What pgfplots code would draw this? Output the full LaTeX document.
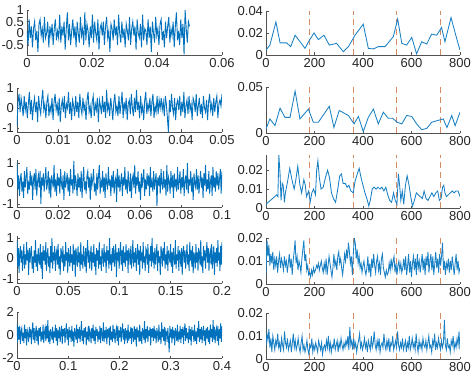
\documentclass[border=0pt]{standalone}
\usepackage{pgfplots}
\pgfplotsset{compat=1.18}
\usepackage{pgfplotstable}
\usepackage{fontspec}
\setmainfont{Liberation Sans}
\definecolor{mblue}{RGB}{0,114,189}
\definecolor{morange}{RGB}{212,140,100}
\definecolor{axgray}{RGB}{38,38,38}

\pgfplotstableread[row sep=\\]{y\\
0.1\\-0.5\\0.6\\-0.2\\0.3\\-0.6\\0.2\\0.5\\-0.3\\0.1\\-0.8\\0.4\\0.6\\-0.1\\0.2\\-0.4\\0.7\\-0.2\\0.0\\0.5\\
-0.6\\0.3\\-0.1\\0.4\\-0.5\\0.2\\0.6\\-0.3\\0.1\\-0.2\\0.8\\-0.4\\0.3\\-0.1\\0.5\\-0.7\\0.2\\0.9\\-0.3\\0.4\\
-0.5\\0.1\\0.6\\-0.2\\0.3\\-0.6\\0.5\\0.0\\-0.4\\0.7\\-0.1\\0.2\\-0.5\\0.9\\-0.3\\0.4\\0.1\\-0.6\\0.3\\-0.2\\
0.8\\-0.4\\0.5\\0.0\\-0.3\\0.6\\-0.7\\0.2\\0.4\\-0.1\\0.5\\-0.5\\0.3\\0.7\\-0.2\\0.1\\-0.8\\0.4\\0.2\\-0.3\\
0.6\\-0.1\\0.3\\-0.5\\0.8\\0.0\\-0.4\\0.5\\-0.2\\0.2\\-0.6\\0.4\\0.1\\-0.3\\0.7\\-0.5\\0.2\\0.5\\-0.1\\0.3\\
-0.7\\0.6\\0.0\\-0.2\\0.4\\-0.6\\0.8\\-0.3\\0.2\\0.1\\-0.5\\0.6\\-0.2\\0.3\\-0.8\\0.5\\0.0\\-0.4\\0.7\\-0.1\\
0.2\\-0.5\\0.4\\0.6\\-0.3\\0.1\\-0.6\\0.5\\-0.2\\0.3\\0.7\\-0.4\\0.2\\-0.1\\0.5\\-0.6\\0.3\\0.9\\-0.3\\0.1\\
-0.5\\0.6\\-0.2\\0.4\\-0.9\\1.0\\0.2\\-0.4\\0.5\\0.3\\
}\sigA
\pgfplotstablegetrowsof{\sigA}\edef\nA{\pgfplotsretval}

\pgfplotstableread[row sep=\\]{y\\
-0.9\\0.3\\0.7\\-0.2\\0.5\\0.1\\-0.4\\0.6\\-0.1\\0.3\\-0.5\\0.2\\0.8\\-0.3\\0.4\\-0.6\\0.1\\0.5\\-0.2\\0.3\\
-0.7\\0.6\\0.0\\-0.3\\0.4\\0.9\\-0.1\\0.2\\-0.5\\0.3\\0.6\\-0.4\\0.1\\-0.2\\0.5\\-0.6\\0.3\\0.7\\-0.1\\0.2\\
-0.4\\0.5\\-0.7\\0.1\\0.4\\-0.2\\0.6\\-0.5\\0.2\\0.0\\0.8\\-0.3\\0.3\\-0.6\\0.4\\0.1\\-0.4\\0.6\\-0.2\\0.3\\
-0.5\\0.7\\0.0\\-0.3\\0.5\\-0.1\\0.2\\-0.6\\0.4\\0.8\\-0.2\\0.1\\-0.5\\0.3\\0.6\\-0.4\\0.2\\-0.1\\0.5\\-0.7\\
0.4\\0.1\\-0.3\\0.6\\-0.2\\0.3\\-0.5\\0.9\\-0.1\\0.2\\-0.4\\0.5\\0.0\\-0.6\\0.3\\0.7\\-0.2\\0.1\\-0.4\\0.6\\
-0.3\\0.2\\0.8\\-0.5\\0.3\\-0.1\\0.5\\-0.6\\0.2\\0.4\\-0.3\\0.7\\0.0\\-0.4\\0.5\\-0.2\\0.9\\-0.1\\0.3\\-0.5\\
0.6\\-0.2\\0.1\\-0.6\\0.4\\0.8\\-0.3\\0.2\\-0.1\\0.5\\-0.4\\0.3\\0.7\\-0.5\\0.1\\-0.2\\0.6\\-0.3\\0.4\\0.0\\
0.5\\-0.1\\0.3\\-0.4\\0.6\\0.2\\-0.5\\-1.2\\0.4\\-0.2\\0.7\\0.0\\-0.3\\0.5\\-0.6\\0.2\\0.4\\-0.1\\0.6\\-0.4\\
0.3\\-0.2\\0.8\\-0.5\\0.1\\0.4\\-0.3\\0.6\\-0.1\\0.2\\-0.6\\0.5\\0.3\\-0.2\\0.7\\-0.4\\0.1\\0.5\\-0.3\\0.2\\
-0.5\\0.6\\0.0\\-0.2\\0.4\\-0.6\\0.3\\0.7\\-0.1\\0.2\\-0.4\\0.5\\-0.2\\0.3\\0.6\\-0.5\\0.2\\0.4\\0.1\\0.7\\
}\sigB
\pgfplotstablegetrowsof{\sigB}\edef\nB{\pgfplotsretval}

\pgfplotstableread[row sep=\\]{y\\
1.0\\-0.3\\0.4\\-0.6\\0.2\\0.5\\-0.4\\0.1\\-0.7\\0.6\\-0.2\\0.3\\0.8\\-0.5\\0.0\\-0.3\\0.6\\-0.1\\0.4\\-0.8\\
0.2\\0.5\\-0.3\\0.7\\-0.6\\0.1\\0.4\\-0.2\\0.6\\-1.0\\0.3\\-0.1\\0.5\\-0.4\\0.2\\0.8\\-0.3\\0.0\\0.6\\-0.5\\
0.3\\-0.7\\0.4\\0.1\\-0.2\\0.9\\-0.4\\0.2\\-0.6\\0.5\\-0.1\\0.3\\-0.5\\0.7\\0.0\\-0.3\\0.4\\-0.8\\0.6\\-0.2\\
0.1\\0.5\\-0.4\\0.3\\-0.6\\0.7\\-0.1\\0.2\\-0.5\\1.1\\-0.3\\0.4\\0.0\\-0.6\\0.5\\-0.2\\0.3\\-0.4\\0.6\\-0.7\\
0.2\\0.8\\-0.3\\0.1\\-0.5\\0.4\\0.6\\-0.2\\0.3\\-0.8\\0.5\\-0.1\\0.2\\0.7\\-0.4\\0.0\\-0.6\\0.5\\-0.3\\0.4\\
0.9\\-0.5\\0.1\\-0.2\\0.6\\-0.4\\0.3\\-0.7\\0.5\\0.0\\-0.3\\0.8\\-0.1\\0.2\\-0.6\\0.4\\-0.2\\0.6\\-0.5\\0.1\\
0.3\\-0.9\\0.7\\-0.2\\0.4\\-0.4\\0.1\\0.5\\-0.6\\0.3\\-0.1\\0.8\\-0.3\\0.2\\-0.5\\0.6\\0.0\\-0.4\\0.5\\-0.7\\
0.2\\0.4\\-0.2\\0.9\\-0.5\\0.3\\-0.1\\0.6\\-0.4\\0.1\\-0.8\\0.5\\-0.2\\0.3\\0.7\\-0.6\\0.2\\-0.3\\0.5\\-0.1\\
0.4\\-0.6\\0.8\\-0.2\\0.1\\-0.4\\0.6\\-0.3\\0.2\\0.5\\-1.1\\0.3\\-0.1\\0.4\\-0.5\\0.7\\0.0\\-0.3\\0.6\\-0.2\\
0.2\\-0.6\\0.9\\-0.4\\0.3\\0.1\\-0.5\\0.6\\-0.2\\0.4\\-0.7\\0.5\\-0.1\\0.2\\-0.4\\0.8\\-0.3\\0.1\\0.6\\-0.5\\
0.3\\-0.2\\0.7\\-0.6\\0.1\\0.4\\-0.3\\1.0\\-0.5\\0.2\\-0.1\\0.6\\-0.4\\0.3\\-0.8\\0.5\\0.0\\-0.2\\0.7\\-0.3\\
0.4\\-0.5\\0.1\\0.6\\-0.2\\0.3\\-0.7\\0.5\\-0.1\\0.9\\-0.4\\0.2\\-0.3\\0.6\\-0.5\\0.1\\0.4\\-0.6\\0.8\\-0.2\\
0.3\\-0.4\\0.6\\-0.1\\0.5\\-0.3\\0.2\\0.7\\-0.5\\0.6\\
}\sigC
\pgfplotstablegetrowsof{\sigC}\edef\nC{\pgfplotsretval}

\pgfplotstableread[row sep=\\]{y\\
0.9\\-0.4\\0.5\\-0.7\\0.3\\0.6\\-0.2\\0.4\\-0.6\\0.1\\0.7\\-0.5\\0.2\\-0.3\\0.8\\-0.1\\0.4\\-0.8\\0.5\\-0.2\\
0.3\\0.6\\-0.5\\0.1\\-0.7\\0.4\\-0.2\\0.9\\-0.4\\0.2\\-0.6\\0.5\\0.0\\-0.3\\0.7\\-0.5\\0.3\\-1.0\\0.6\\-0.1\\
0.4\\-0.3\\0.8\\-0.6\\0.2\\0.5\\-0.4\\0.1\\-0.7\\0.6\\-0.2\\1.0\\-0.5\\0.3\\-0.1\\0.6\\-0.6\\0.2\\0.4\\-0.3\\
0.7\\-0.5\\0.1\\-0.8\\0.5\\0.3\\-0.2\\0.6\\-0.6\\0.2\\-0.4\\0.8\\-0.1\\0.3\\-0.7\\0.5\\0.0\\-0.4\\0.6\\-0.2\\
0.2\\-0.6\\0.7\\-0.3\\0.4\\-0.9\\0.5\\0.1\\-0.4\\0.6\\-0.2\\0.3\\-0.6\\0.8\\-0.3\\0.2\\-0.5\\0.6\\0.0\\-0.4\\
0.5\\-0.7\\0.3\\0.9\\-0.2\\0.4\\-0.5\\0.1\\0.6\\-0.6\\0.3\\-0.2\\0.7\\-0.4\\0.2\\-0.8\\0.5\\-0.1\\0.4\\-0.5\\
0.8\\-0.3\\0.1\\-0.6\\0.5\\0.2\\-0.4\\0.7\\-0.2\\0.3\\-0.7\\0.6\\-0.1\\0.4\\-0.5\\1.0\\-0.3\\0.2\\-0.6\\0.5\\
-0.2\\0.6\\-0.4\\0.1\\0.7\\-0.9\\0.3\\-0.1\\0.5\\-0.5\\0.2\\0.8\\-0.3\\0.4\\-0.6\\0.6\\-0.2\\0.3\\-0.4\\0.7\\
-0.1\\0.4\\-0.7\\0.5\\0.2\\-0.3\\0.6\\-0.5\\0.1\\0.9\\-0.4\\0.3\\-0.2\\0.5\\-0.6\\0.2\\0.7\\-0.3\\0.4\\-0.8\\
0.6\\-0.1\\0.3\\-0.5\\0.8\\-0.2\\0.1\\-0.6\\0.5\\0.4\\-0.3\\0.7\\-0.7\\0.2\\-0.1\\0.6\\-0.4\\1.0\\-0.2\\0.3\\
-0.5\\0.5\\-0.3\\0.2\\0.7\\-0.6\\0.4\\-0.2\\0.1\\-0.8\\0.6\\0.3\\-0.4\\0.5\\-0.1\\0.8\\-0.5\\0.2\\-0.3\\0.6\\
-0.6\\0.4\\0.1\\-0.2\\0.7\\-0.4\\0.3\\-0.7\\0.5\\0.0\\-0.3\\0.9\\-0.5\\0.2\\-0.1\\0.6\\-0.6\\0.4\\0.2\\-0.4\\
0.5\\-0.8\\0.3\\0.6\\-0.2\\0.4\\-0.5\\0.1\\0.7\\-0.3\\0.2\\-0.6\\0.8\\-0.1\\0.4\\-0.4\\0.6\\-0.7\\0.3\\0.1\\
-0.5\\0.7\\-0.2\\0.3\\-0.6\\0.5\\0.2\\-0.3\\0.9\\-0.4\\0.1\\-0.7\\0.6\\-0.1\\0.4\\-0.5\\0.3\\0.8\\-0.2\\0.5\\
-0.6\\0.2\\0.4\\-0.3\\0.7\\-0.5\\0.1\\0.6\\-0.8\\0.3\\-0.2\\0.5\\-0.4\\0.9\\-0.1\\0.3\\-0.6\\0.6\\-0.3\\0.8\\
}\sigD
\pgfplotstablegetrowsof{\sigD}\edef\nD{\pgfplotsretval}

\pgfplotstableread[row sep=\\]{y\\
1.0\\-0.6\\0.7\\-0.4\\0.8\\-0.8\\0.3\\0.6\\-0.5\\0.2\\-0.7\\0.9\\-0.3\\0.5\\-0.9\\0.4\\0.1\\-0.6\\0.7\\-0.2\\
0.5\\-0.8\\0.3\\1.1\\-0.4\\0.6\\-0.7\\0.2\\0.8\\-0.5\\0.4\\-0.9\\0.6\\-0.1\\0.7\\-0.6\\0.3\\-0.4\\0.9\\-0.7\\
0.2\\0.6\\-0.5\\0.8\\-0.3\\1.3\\-0.6\\0.4\\-0.8\\0.5\\0.1\\-0.4\\0.7\\-0.7\\0.3\\-0.2\\0.9\\-0.5\\0.6\\-0.9\\
0.4\\-0.3\\0.7\\-0.6\\0.2\\0.8\\-0.8\\0.5\\-0.1\\0.6\\-0.7\\0.3\\1.0\\-0.4\\0.5\\-0.9\\0.7\\-0.2\\0.4\\-0.6\\
0.8\\-0.5\\0.3\\-1.0\\0.6\\0.1\\-0.4\\0.9\\-0.7\\0.5\\-0.3\\0.7\\-0.6\\0.2\\1.2\\-0.5\\0.4\\-0.8\\0.6\\-0.2\\
0.7\\-0.9\\0.3\\-0.4\\0.8\\-0.6\\0.5\\0.2\\-0.7\\0.6\\-0.3\\0.9\\-0.5\\0.4\\-0.8\\0.7\\-0.1\\0.5\\-0.6\\0.3\\
-0.4\\0.8\\-0.7\\0.6\\0.1\\-0.5\\1.1\\-0.6\\0.4\\-0.3\\0.7\\-0.8\\0.5\\-0.2\\0.6\\-0.9\\0.8\\-0.4\\0.3\\-0.6\\
0.9\\-0.3\\0.5\\-0.7\\0.2\\0.6\\-0.5\\0.8\\-0.9\\0.4\\-0.2\\0.7\\-0.6\\0.3\\1.0\\-0.4\\0.5\\-0.8\\0.6\\-0.1\\
0.4\\-0.7\\0.9\\-0.5\\0.3\\-0.3\\0.7\\-0.8\\0.6\\0.1\\-0.6\\0.8\\-0.4\\0.5\\-1.0\\0.7\\-0.2\\0.4\\-0.6\\0.9\\
-0.5\\0.3\\-0.8\\0.6\\0.2\\-0.4\\1.2\\-0.7\\0.5\\-0.3\\0.8\\-0.6\\0.4\\-0.1\\0.7\\-0.9\\0.5\\-0.2\\0.6\\-0.5\\
0.8\\-0.3\\0.4\\-0.7\\0.6\\0.1\\-0.6\\0.9\\-0.4\\0.3\\-0.8\\1.1\\-0.2\\0.5\\-0.5\\0.7\\-0.9\\0.4\\0.2\\-0.6\\
0.6\\-0.4\\-1.5\\0.8\\-0.2\\0.5\\-0.7\\0.7\\-0.3\\0.4\\-0.9\\0.6\\0.1\\-0.5\\0.9\\-0.6\\0.3\\-0.4\\0.8\\-0.7\\
0.5\\-0.2\\0.7\\-0.8\\0.4\\1.0\\-0.5\\0.6\\-0.3\\0.2\\-0.7\\0.8\\-0.4\\0.5\\-0.9\\0.7\\-0.1\\0.4\\-0.6\\0.9\\
-0.5\\0.3\\-0.8\\0.6\\-0.2\\1.2\\-0.6\\0.5\\-0.4\\0.7\\-0.7\\0.3\\0.8\\-0.5\\0.4\\-0.9\\0.6\\-0.3\\0.7\\-0.6\\
0.4\\-0.8\\0.9\\-0.2\\0.5\\-0.6\\1.3\\-0.4\\0.7\\-0.7\\0.3\\0.6\\-0.5\\0.8\\-0.9\\0.5\\-0.3\\1.0\\-0.6\\0.8\\
}\sigE
\pgfplotstablegetrowsof{\sigE}\edef\nE{\pgfplotsretval}

\pgfplotstableread[row sep=\\]{y\\
0.004\\0.019\\0.012\\0.017\\0.008\\0.013\\0.009\\0.014\\0.006\\0.011\\0.008\\0.012\\0.005\\0.010\\0.013\\0.007\\0.011\\0.009\\0.006\\0.012\\
0.008\\0.010\\0.005\\0.009\\0.013\\0.007\\0.011\\0.004\\0.010\\0.014\\0.019\\0.009\\0.012\\0.006\\0.010\\0.008\\0.005\\0.011\\0.015\\0.019\\
0.010\\0.013\\0.006\\0.008\\0.004\\0.005\\0.003\\0.006\\0.004\\0.007\\0.005\\0.006\\0.008\\0.007\\0.009\\0.006\\0.008\\0.010\\0.007\\0.005\\
0.009\\0.006\\0.011\\0.004\\0.008\\0.012\\0.009\\0.006\\0.003\\0.007\\0.013\\0.008\\0.010\\0.006\\0.012\\0.014\\0.009\\0.011\\0.007\\0.004\\
0.008\\0.013\\0.010\\0.015\\0.011\\0.018\\0.014\\0.009\\0.012\\0.004\\0.013\\0.020\\0.018\\0.011\\0.015\\0.009\\0.012\\0.007\\0.009\\0.005\\
0.008\\0.010\\0.006\\0.004\\0.007\\0.012\\0.005\\0.009\\0.003\\0.011\\0.007\\0.013\\0.008\\0.005\\0.010\\0.012\\0.006\\0.009\\0.004\\0.011\\
0.013\\0.007\\0.005\\0.003\\0.006\\0.004\\0.005\\0.009\\0.006\\0.011\\0.007\\0.010\\0.012\\0.005\\0.009\\0.004\\0.008\\0.010\\0.006\\0.009\\
0.005\\0.007\\0.011\\0.006\\0.012\\0.004\\0.008\\0.013\\0.005\\0.010\\0.003\\0.009\\0.012\\0.006\\0.011\\0.004\\0.013\\0.007\\0.010\\0.005\\
0.009\\0.013\\0.006\\0.011\\0.004\\0.012\\0.008\\0.014\\0.005\\0.010\\0.013\\0.006\\0.012\\0.004\\0.009\\0.014\\0.007\\0.011\\0.005\\0.013\\
0.008\\0.012\\0.018\\0.006\\0.010\\0.004\\0.009\\0.007\\0.011\\0.005\\0.010\\0.006\\0.012\\0.008\\0.004\\0.009\\0.013\\0.006\\0.010\\0.005\\
0.007\\
}\specD
\pgfplotstablegetrowsof{\specD}\edef\nSD{\pgfplotsretval}

\pgfplotstableread[row sep=\\]{y\\
0.006\\0.011\\0.008\\0.013\\0.005\\0.009\\0.003\\0.010\\0.007\\0.004\\0.008\\0.006\\0.011\\0.005\\0.007\\0.003\\0.009\\0.006\\0.004\\0.012\\
0.007\\0.005\\0.009\\0.004\\0.006\\0.008\\0.003\\0.007\\0.011\\0.005\\0.008\\0.004\\0.006\\0.009\\0.005\\0.003\\0.007\\0.010\\0.004\\0.006\\
0.003\\0.005\\0.008\\0.004\\0.002\\0.006\\0.005\\0.009\\0.003\\0.006\\0.004\\0.007\\0.005\\0.003\\0.008\\0.006\\0.004\\0.007\\0.002\\0.005\\
0.006\\0.004\\0.008\\0.005\\0.010\\0.004\\0.007\\0.003\\0.006\\0.005\\0.009\\0.004\\0.006\\0.008\\0.003\\0.007\\0.005\\0.009\\0.006\\0.004\\
0.007\\0.005\\0.008\\0.006\\0.010\\0.004\\0.014\\0.006\\0.008\\0.004\\0.009\\0.005\\0.007\\0.003\\0.006\\0.008\\0.011\\0.005\\0.007\\0.004\\
0.006\\0.009\\0.005\\0.007\\0.003\\0.008\\0.006\\0.004\\0.010\\0.005\\0.007\\0.012\\0.006\\0.004\\0.008\\0.005\\0.009\\0.003\\0.006\\0.007\\
0.005\\0.011\\0.006\\0.004\\0.008\\0.005\\0.009\\0.003\\0.007\\0.006\\0.010\\0.004\\0.006\\0.008\\0.005\\0.012\\0.006\\0.004\\0.007\\0.005\\
0.009\\0.004\\0.006\\0.008\\0.003\\0.007\\0.005\\0.010\\0.004\\0.006\\0.009\\0.005\\0.007\\0.004\\0.011\\0.006\\0.003\\0.008\\0.005\\0.007\\
0.004\\0.009\\0.006\\0.005\\0.008\\0.004\\0.007\\0.010\\0.005\\0.006\\0.003\\0.008\\0.006\\0.011\\0.004\\0.007\\0.005\\0.009\\0.006\\0.004\\
0.008\\0.005\\0.007\\0.017\\0.006\\0.004\\0.009\\0.005\\0.006\\0.003\\0.008\\0.006\\0.010\\0.004\\0.007\\0.005\\0.009\\0.006\\0.012\\0.004\\
}\specE
\pgfplotstablegetrowsof{\specE}\edef\nSE{\pgfplotsretval}

\pgfplotsset{
  base/.style={
    scale only axis, anchor=south west,
    axis x line*=bottom, axis y line*=left,
    axis line style={axgray!80, line width=0.7pt, -},
    tick style={axgray!80, line width=0.6pt},
    tick align=inside, major tick length=2.5pt,
    ticklabel style={font=\fontsize{13}{13}\selectfont, text=axgray},
    yticklabel style={xshift=0.5pt},
    /pgf/number format/assume math mode=true,
    scaled ticks=false,
  },
  lcol/.style={base, width=205pt, xmin=0},
  rcol/.style={base, width=194pt, xmin=0, xmax=800,
    xtick={0,200,400,600,800}, xticklabels={0,200,400,600,800}},
  sig/.style={mblue, line width=0.9pt},
  spec/.style={mblue!90!white, line width=0.85pt},
  vl/.style={morange, dash pattern=on 6pt off 4pt, line width=1.1pt},
}

\begin{document}
\begin{tikzpicture}
\useasboundingbox (0pt,0pt) rectangle (474pt,381pt);

% ---------- left column ----------
\begin{axis}[lcol, at={(27pt,326pt)}, width=195pt, height=45pt,
  xmax=0.06, ymin=-0.93, ymax=1,
  xtick={0,0.02,0.04,0.06}, xticklabels={0,0.02,0.04,0.06},
  ytick={-0.5,0,0.5,1}, yticklabels={-0.5,0,0.5,1}]
\addplot[sig] table[x expr=\coordindex*0.05/(\nA-1), y=y]{\sigA};
\end{axis}

\begin{axis}[lcol, at={(17pt,249pt)}, height=44pt,
  xmax=0.05, ymin=-1.2, ymax=1,
  xtick={0,0.01,0.02,0.03,0.04,0.05}, xticklabels={0,0.01,0.02,0.03,0.04,0.05},
  ytick={-1,0,1}, yticklabels={-1,0,1}]
\addplot[sig] table[x expr=\coordindex*0.05/(\nB-1), y=y]{\sigB};
\end{axis}

\begin{axis}[lcol, at={(17pt,174pt)}, height=47pt,
  xmax=0.1, ymin=-1.15, ymax=1.15,
  xtick={0,0.02,0.04,0.06,0.08,0.1}, xticklabels={0,0.02,0.04,0.06,0.08,0.1},
  ytick={-1,0,1}, yticklabels={-1,0,1}]
\addplot[sig] table[x expr=\coordindex*0.1/(\nC-1), y=y]{\sigC};
\end{axis}

\begin{axis}[lcol, at={(17pt,98pt)}, height=47pt,
  xmax=0.2, ymin=-1.2, ymax=1.1,
  xtick={0,0.05,0.1,0.15,0.2}, xticklabels={0,0.05,0.1,0.15,0.2},
  ytick={-1,0,1}, yticklabels={-1,0,1}]
\addplot[sig] table[x expr=\coordindex*0.2/(\nD-1), y=y]{\sigD};
\end{axis}

\begin{axis}[lcol, at={(17pt,23pt)}, height=46pt,
  xmax=0.4, ymin=-2, ymax=2,
  xtick={0,0.1,0.2,0.3,0.4}, xticklabels={0,0.1,0.2,0.3,0.4},
  ytick={-2,0,2}, yticklabels={-2,0,2}]
\addplot[sig] table[x expr=\coordindex*0.4/(\nE-1), y=y]{\sigE};
\end{axis}

% ---------- right column ----------
\begin{axis}[rcol, at={(266pt,326pt)}, height=44pt,
  ymin=0, ymax=0.04, ytick={0,0.02,0.04}, yticklabels={0,0.02,0.04}]
\addplot[vl] coordinates {(180,0) (180,0.04)};
\addplot[vl] coordinates {(360,0) (360,0.04)};
\addplot[vl] coordinates {(540,0) (540,0.04)};
\addplot[vl] coordinates {(720,0) (720,0.04)};
\addplot[spec] coordinates {
(0,0.0045) (16,0.009) (41,0.030) (58,0.011) (85,0.011) (102,0.0076) (120,0.018)
(161,0.006) (175,0.012) (198,0.020) (216,0.014) (239,0.018) (261,0.009) (291,0.0106)
(319,0.003) (340,0.0076) (367,0.018) (401,0.028) (422,0.006) (443,0.0055) (463,0.0076)
(491,0.0076) (525,0.0167) (543,0.0327) (560,0.0106) (580,0.009) (601,0.016) (621,0.001)
(642,0.012) (663,0.010) (683,0.019) (704,0.018) (724,0.025) (738,0.012) (763,0.034)
(790,0.012) (800,0.0045)};
\end{axis}

\begin{axis}[rcol, at={(266pt,248pt)}, height=46pt,
  ymin=0, ymax=0.05, ytick={0,0.05}, yticklabels={0,0.05}]
\addplot[vl] coordinates {(180,0) (180,0.05)};
\addplot[vl] coordinates {(360,0) (360,0.05)};
\addplot[vl] coordinates {(540,0) (540,0.05)};
\addplot[vl] coordinates {(720,0) (720,0.05)};
\addplot[spec] coordinates {
(0,0.0044) (16,0.0153) (37,0.008) (58,0.027) (78,0.017) (99,0.017) (120,0.0456)
(140,0.0153) (175,0.026) (195,0.0117) (216,0.0117) (261,0.029) (280,0.006) (302,0.0245)
(340,0.019) (363,0.0099) (381,0.018) (401,0.0015) (422,0.017) (443,0.026) (463,0.0099)
(484,0.0226) (504,0.016) (522,0.016) (541,0.0117) (560,0.0099) (580,0.019) (601,0.018)
(621,0.0099) (642,0.0036) (663,0.005) (683,0.0117) (731,0.0153) (746,0.006) (766,0.019)
(780,0.008) (800,0.0226)};
\end{axis}

\begin{axis}[rcol, at={(266pt,173pt)}, height=53pt,
  ymin=0, ymax=0.028, ytick={0,0.01,0.02}, yticklabels={0,0.01,0.02}]
\addplot[vl] coordinates {(180,0) (180,0.028)};
\addplot[vl] coordinates {(360,0) (360,0.028)};
\addplot[vl] coordinates {(540,0) (540,0.028)};
\addplot[vl] coordinates {(720,0) (720,0.028)};
\addplot[spec] coordinates {
(0,0.002) (9,0.003) (18,0.004) (27,0.005) (36,0.006) (44,0.007) (49,0.006) (53,0.028)
(58,0.018) (62,0.004) (67,0.013) (71,0.012) (76,0.003) (80,0.008) (89,0.014) (98,0.021)
(107,0.015) (116,0.010) (122,0.014) (131,0.022) (140,0.012) (147,0.008) (156,0.015)
(162,0.012) (167,0.006) (176,0.009) (182,0.003) (189,0.008) (196,0.010) (204,0.007)
(209,0.020) (214,0.025) (220,0.016) (227,0.010) (236,0.011) (245,0.016) (254,0.020)
(262,0.016) (270,0.008) (278,0.005) (287,0.003) (296,0.010) (304,0.017) (311,0.018)
(318,0.013) (327,0.013) (334,0.011) (342,0.012) (350,0.009) (360,0.008) (367,0.014)
(374,0.017) (384,0.021) (392,0.016) (400,0.012) (408,0.008) (416,0.005) (424,0.001)
(430,0.004) (438,0.010) (446,0.011) (454,0.010) (462,0.011) (470,0.010) (478,0.011)
(486,0.009) (494,0.011) (502,0.007) (510,0.004) (518,0.003) (526,0.008) (533,0.004)
(540,0.002) (546,0.018) (551,0.012) (556,0.004) (562,0.009) (568,0.002) (575,0.012)
(582,0.017) (590,0.012) (597,0.006) (604,0.001) (612,0.004) (620,0.008) (628,0.007)
(636,0.006) (645,0.005) (652,0.009) (660,0.005) (668,0.004) (676,0.006) (684,0.008)
(692,0.006) (700,0.008) (708,0.009) (715,0.004) (722,0.005) (728,0.011) (733,0.012)
(738,0.008) (744,0.006) (752,0.007) (760,0.008) (768,0.009) (776,0.008) (784,0.009)
(792,0.009) (800,0.006)};
\end{axis}

\begin{axis}[rcol, at={(266pt,97pt)}, height=46pt,
  ymin=0, ymax=0.02, ytick={0,0.01,0.02}, yticklabels={0,0.01,0.02}]
\addplot[vl] coordinates {(180,0) (180,0.02)};
\addplot[vl] coordinates {(360,0) (360,0.02)};
\addplot[vl] coordinates {(540,0) (540,0.02)};
\addplot[vl] coordinates {(720,0) (720,0.02)};
\addplot[spec] table[x expr=\coordindex*800/(\nSD-1), y=y]{\specD};
\end{axis}

\begin{axis}[rcol, at={(266pt,22pt)}, height=46pt,
  ymin=0, ymax=0.02, ytick={0,0.01,0.02}, yticklabels={0,0.01,0.02}]
\addplot[vl] coordinates {(180,0) (180,0.02)};
\addplot[vl] coordinates {(360,0) (360,0.02)};
\addplot[vl] coordinates {(540,0) (540,0.02)};
\addplot[vl] coordinates {(720,0) (720,0.02)};
\addplot[spec] table[x expr=\coordindex*800/(\nSE-1), y=y]{\specE};
\end{axis}
\end{tikzpicture}
\end{document}
